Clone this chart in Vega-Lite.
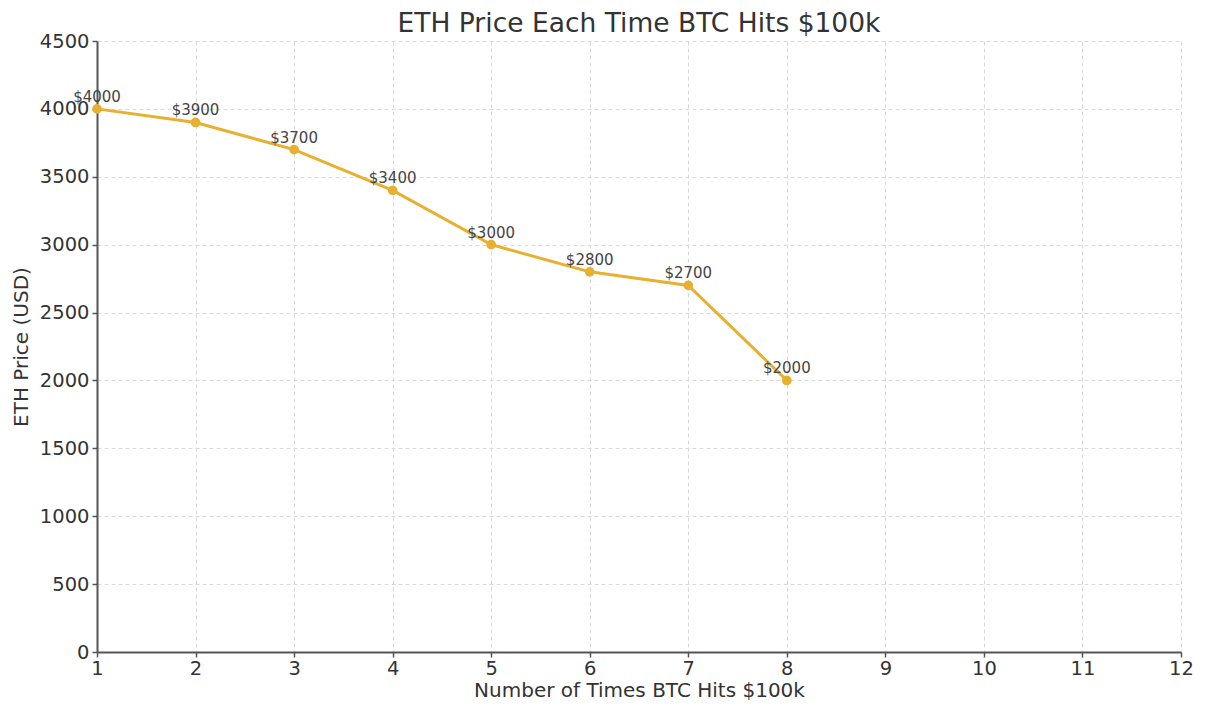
{
  "$schema": "https://vega.github.io/schema/vega-lite/v6.json",
  "autosize": "none",
  "width": 1084,
  "height": 611,
  "padding": {"left": 97, "top": 41, "right": 32, "bottom": 55},
  "background": "white",
  "title": {
    "text": "ETH Price Each Time BTC Hits $100k",
    "font": "DejaVu Sans",
    "fontSize": 26.5,
    "fontWeight": "normal",
    "color": "#333333",
    "frame": "group",
    "offset": 4,
    "dy": 10,
    "anchor": "middle"
  },
  "config": {
    "view": {"stroke": null},
    "axis": {
      "labelFont": "DejaVu Sans",
      "titleFont": "DejaVu Sans",
      "labelFontSize": 19.5,
      "titleFontSize": 20,
      "titleFontWeight": "normal",
      "labelColor": "#333333",
      "titleColor": "#333333",
      "domainColor": "#555555",
      "domainWidth": 2,
      "tickColor": "#555555",
      "tickWidth": 1.5,
      "tickSize": 5,
      "gridColor": "#d9d9d9",
      "gridDash": [4, 3],
      "gridWidth": 1
    }
  },
  "data": {
    "values": [
      {"n": 1, "price": 4000, "label": "$4000"},
      {"n": 2, "price": 3900, "label": "$3900"},
      {"n": 3, "price": 3700, "label": "$3700"},
      {"n": 4, "price": 3400, "label": "$3400"},
      {"n": 5, "price": 3000, "label": "$3000"},
      {"n": 6, "price": 2800, "label": "$2800"},
      {"n": 7, "price": 2700, "label": "$2700"},
      {"n": 8, "price": 2000, "label": "$2000"}
    ]
  },
  "encoding": {
    "x": {
      "field": "n",
      "type": "quantitative",
      "scale": {"domain": [1, 12], "nice": false, "zero": false},
      "axis": {"values": [1,2,3,4,5,6,7,8,9,10,11,12], "title": "Number of Times BTC Hits $100k", "labelPadding": 2, "titlePadding": 3, "labelFlush": false}
    },
    "y": {
      "field": "price",
      "type": "quantitative",
      "scale": {"domain": [0, 4500], "nice": false},
      "axis": {"values": [0,500,1000,1500,2000,2500,3000,3500,4000,4500], "format": "d", "title": "ETH Price (USD)", "labelPadding": 3, "titlePadding": 8, "labelFlush": false}
    }
  },
  "layer": [
    {
      "mark": {"type": "line", "color": "#e8b030", "strokeWidth": 3}
    },
    {
      "mark": {"type": "point", "filled": true, "color": "#e8b030", "size": 95, "opacity": 1}
    },
    {
      "mark": {"type": "text", "dy": -12, "font": "DejaVu Sans", "fontSize": 15, "color": "#444444"},
      "encoding": {"text": {"field": "label"}}
    }
  ]
}
